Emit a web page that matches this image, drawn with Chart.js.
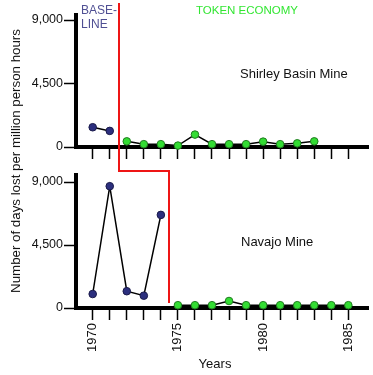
<!DOCTYPE html>
<html>
<head>
<meta charset="utf-8">
<script src="https://cdn.jsdelivr.net/npm/chart.js@4/dist/chart.umd.min.js"></script>
<style>
  html, body { margin: 0; padding: 0; background: #fff; }
  #wrap { position: relative; width: 373px; height: 375px; overflow: hidden; font-family: "Liberation Sans", Arial, sans-serif; }
  canvas { position: absolute; left: 0; }
  .lbl { position: absolute; white-space: nowrap; }
</style>
</head>
<body>
<div id="wrap">
  <canvas id="top" width="373" height="165" style="top:0px"></canvas>
  <canvas id="bot" width="373" height="210" style="top:165px"></canvas>
  <div class="lbl" style="left:81px; top:3px; font-size:12px; line-height:14px; color:#4f4f93;">BASE-<br>LINE</div>
  <div class="lbl" style="left:196px; top:3px; font-size:11.5px; line-height:14px; color:#33e633;">TOKEN ECONOMY</div>
  <div class="lbl" style="left:240px; top:65.5px; font-size:13px; line-height:15px; color:#111;">Shirley Basin Mine</div>
  <div class="lbl" style="left:241px; top:233.5px; font-size:13px; line-height:15px; color:#111;">Navajo Mine</div>
  <div class="lbl" style="left:165px; top:355.5px; width:100px; text-align:center; font-size:13px; line-height:15px; color:#111;">Years</div>
  <div class="lbl" style="left:-134px; top:153px; width:300px; height:16px; text-align:center; font-size:13.3px; line-height:16px; color:#111; transform:rotate(-90deg); transform-origin:150px 8px;">Number of days lost per million person hours</div>
</div>
<script>
// ---- data ----
const years = [1970,1971,1972,1973,1974,1975,1976,1977,1978,1979,1980,1981,1982,1983,1984,1985];
const yTicks = [0, 4500, 9000];
const yTickLabels = ["0", "4,500", "9,000"];
const xLabelYears = [1970, 1975, 1980, 1985];

const shirleyBaselineYears = [1970, 1971];
const shirleyBaseline = [1400, 1140];
const shirleyTokenYears = [1972,1973,1974,1975,1976,1977,1978,1979,1980,1981,1982,1983];
const shirleyToken = [400, 200, 200, 100, 880, 200, 200, 200, 380, 200, 260, 400];

const navajoBaselineYears = [1970, 1971, 1972, 1973, 1974];
const navajoBaseline = [1000, 8700, 1200, 880, 6650];
const navajoTokenYears = [1975,1976,1977,1978,1979,1980,1981,1982,1983,1984,1985];
const navajoToken = [200, 200, 200, 500, 200, 200, 200, 200, 200, 200, 200];

const phaseTop = 1971.5;
const phaseBottom = 1974.5;

// ---- styling ----
const FONT = "'Liberation Sans', Arial, sans-serif";
const navyFill = '#2c2f7e', navyBorder = '#1a1a4a';
const greenFill = '#33dd33', greenBorder = '#1f7a1f';
const RED = '#ee1515';

function pts(xs, ys) { return xs.map((x, i) => ({ x: x, y: ys[i] })); }

function ds(xs, ys, fill, border) {
  return {
    data: pts(xs, ys),
    borderColor: '#000', borderWidth: 1.5,
    pointBackgroundColor: fill, pointBorderColor: border, pointBorderWidth: 1,
    pointRadius: 3.8, tension: 0, clip: false, fill: false
  };
}

function makeOptions(yMax, xHeight, padTop, showXLabels) {
  return {
    responsive: false, animation: false, devicePixelRatio: 1,
    layout: { padding: { top: padTop, left: 0, right: 0, bottom: 0 } },
    plugins: { legend: { display: false }, tooltip: { enabled: false } },
    scales: {
      x: {
        type: 'linear', min: 1969.02, max: 1986.154,
        afterBuildTicks: s => { s.ticks = years.map(v => ({ value: v })); },
        afterFit: s => { s.height = xHeight; },
        grid: { display: true, drawOnChartArea: false, drawTicks: true, tickLength: 12, tickWidth: 1.5, tickColor: '#000' },
        border: { display: true, width: 4, color: '#000' },
        ticks: {
          display: showXLabels, autoSkip: false, maxRotation: 90, minRotation: 90, padding: 3,
          color: '#111', font: { family: FONT, size: 13 },
          callback: v => xLabelYears.includes(v) ? String(v) : ''
        }
      },
      y: {
        min: 0, max: yMax,
        afterBuildTicks: s => { s.ticks = yTicks.map(v => ({ value: v })); },
        afterFit: s => { s.width = 76; },
        grid: { display: true, drawOnChartArea: false, drawTicks: true, tickLength: 12, tickWidth: 1.5, tickColor: '#000' },
        border: { display: true, width: 4, color: '#000' },
        ticks: {
          padding: 1, color: '#111', font: { family: FONT, size: 12.5 },
          callback: v => yTickLabels[yTicks.indexOf(v)]
        }
      }
    }
  };
}

const topPhase = {
  id: 'topPhase',
  afterDraw(chart) {
    const c = chart.ctx, x = Math.round(chart.scales.x.getPixelForValue(phaseTop)) + 1;
    c.save(); c.strokeStyle = RED; c.lineWidth = 2;
    c.beginPath(); c.moveTo(x, 3); c.lineTo(x, chart.height); c.stroke(); c.restore();
  }
};
const botPhase = {
  id: 'botPhase',
  afterDraw(chart) {
    const c = chart.ctx, sx = chart.scales.x;
    const x1 = Math.round(sx.getPixelForValue(phaseTop)) + 1;
    const x2 = Math.round(sx.getPixelForValue(phaseBottom));
    c.save(); c.strokeStyle = RED; c.lineWidth = 2;
    c.beginPath(); c.moveTo(x1, 0); c.lineTo(x1, 6); c.lineTo(x2, 6); c.lineTo(x2, 138); c.stroke(); c.restore();
  }
};

new Chart(document.getElementById('top'), {
  type: 'line',
  data: { datasets: [ ds(shirleyBaselineYears, shirleyBaseline, navyFill, navyBorder),
                      ds(shirleyTokenYears, shirleyToken, greenFill, greenBorder) ] },
  options: makeOptions(9355, 18, 15, false),
  plugins: [topPhase]
});

new Chart(document.getElementById('bot'), {
  type: 'line',
  data: { datasets: [ ds(navajoBaselineYears, navajoBaseline, navyFill, navyBorder),
                      ds(navajoTokenYears, navajoToken, greenFill, greenBorder) ] },
  options: makeOptions(9500, 67, 10, true),
  plugins: [botPhase]
});
</script>
</body>
</html>
